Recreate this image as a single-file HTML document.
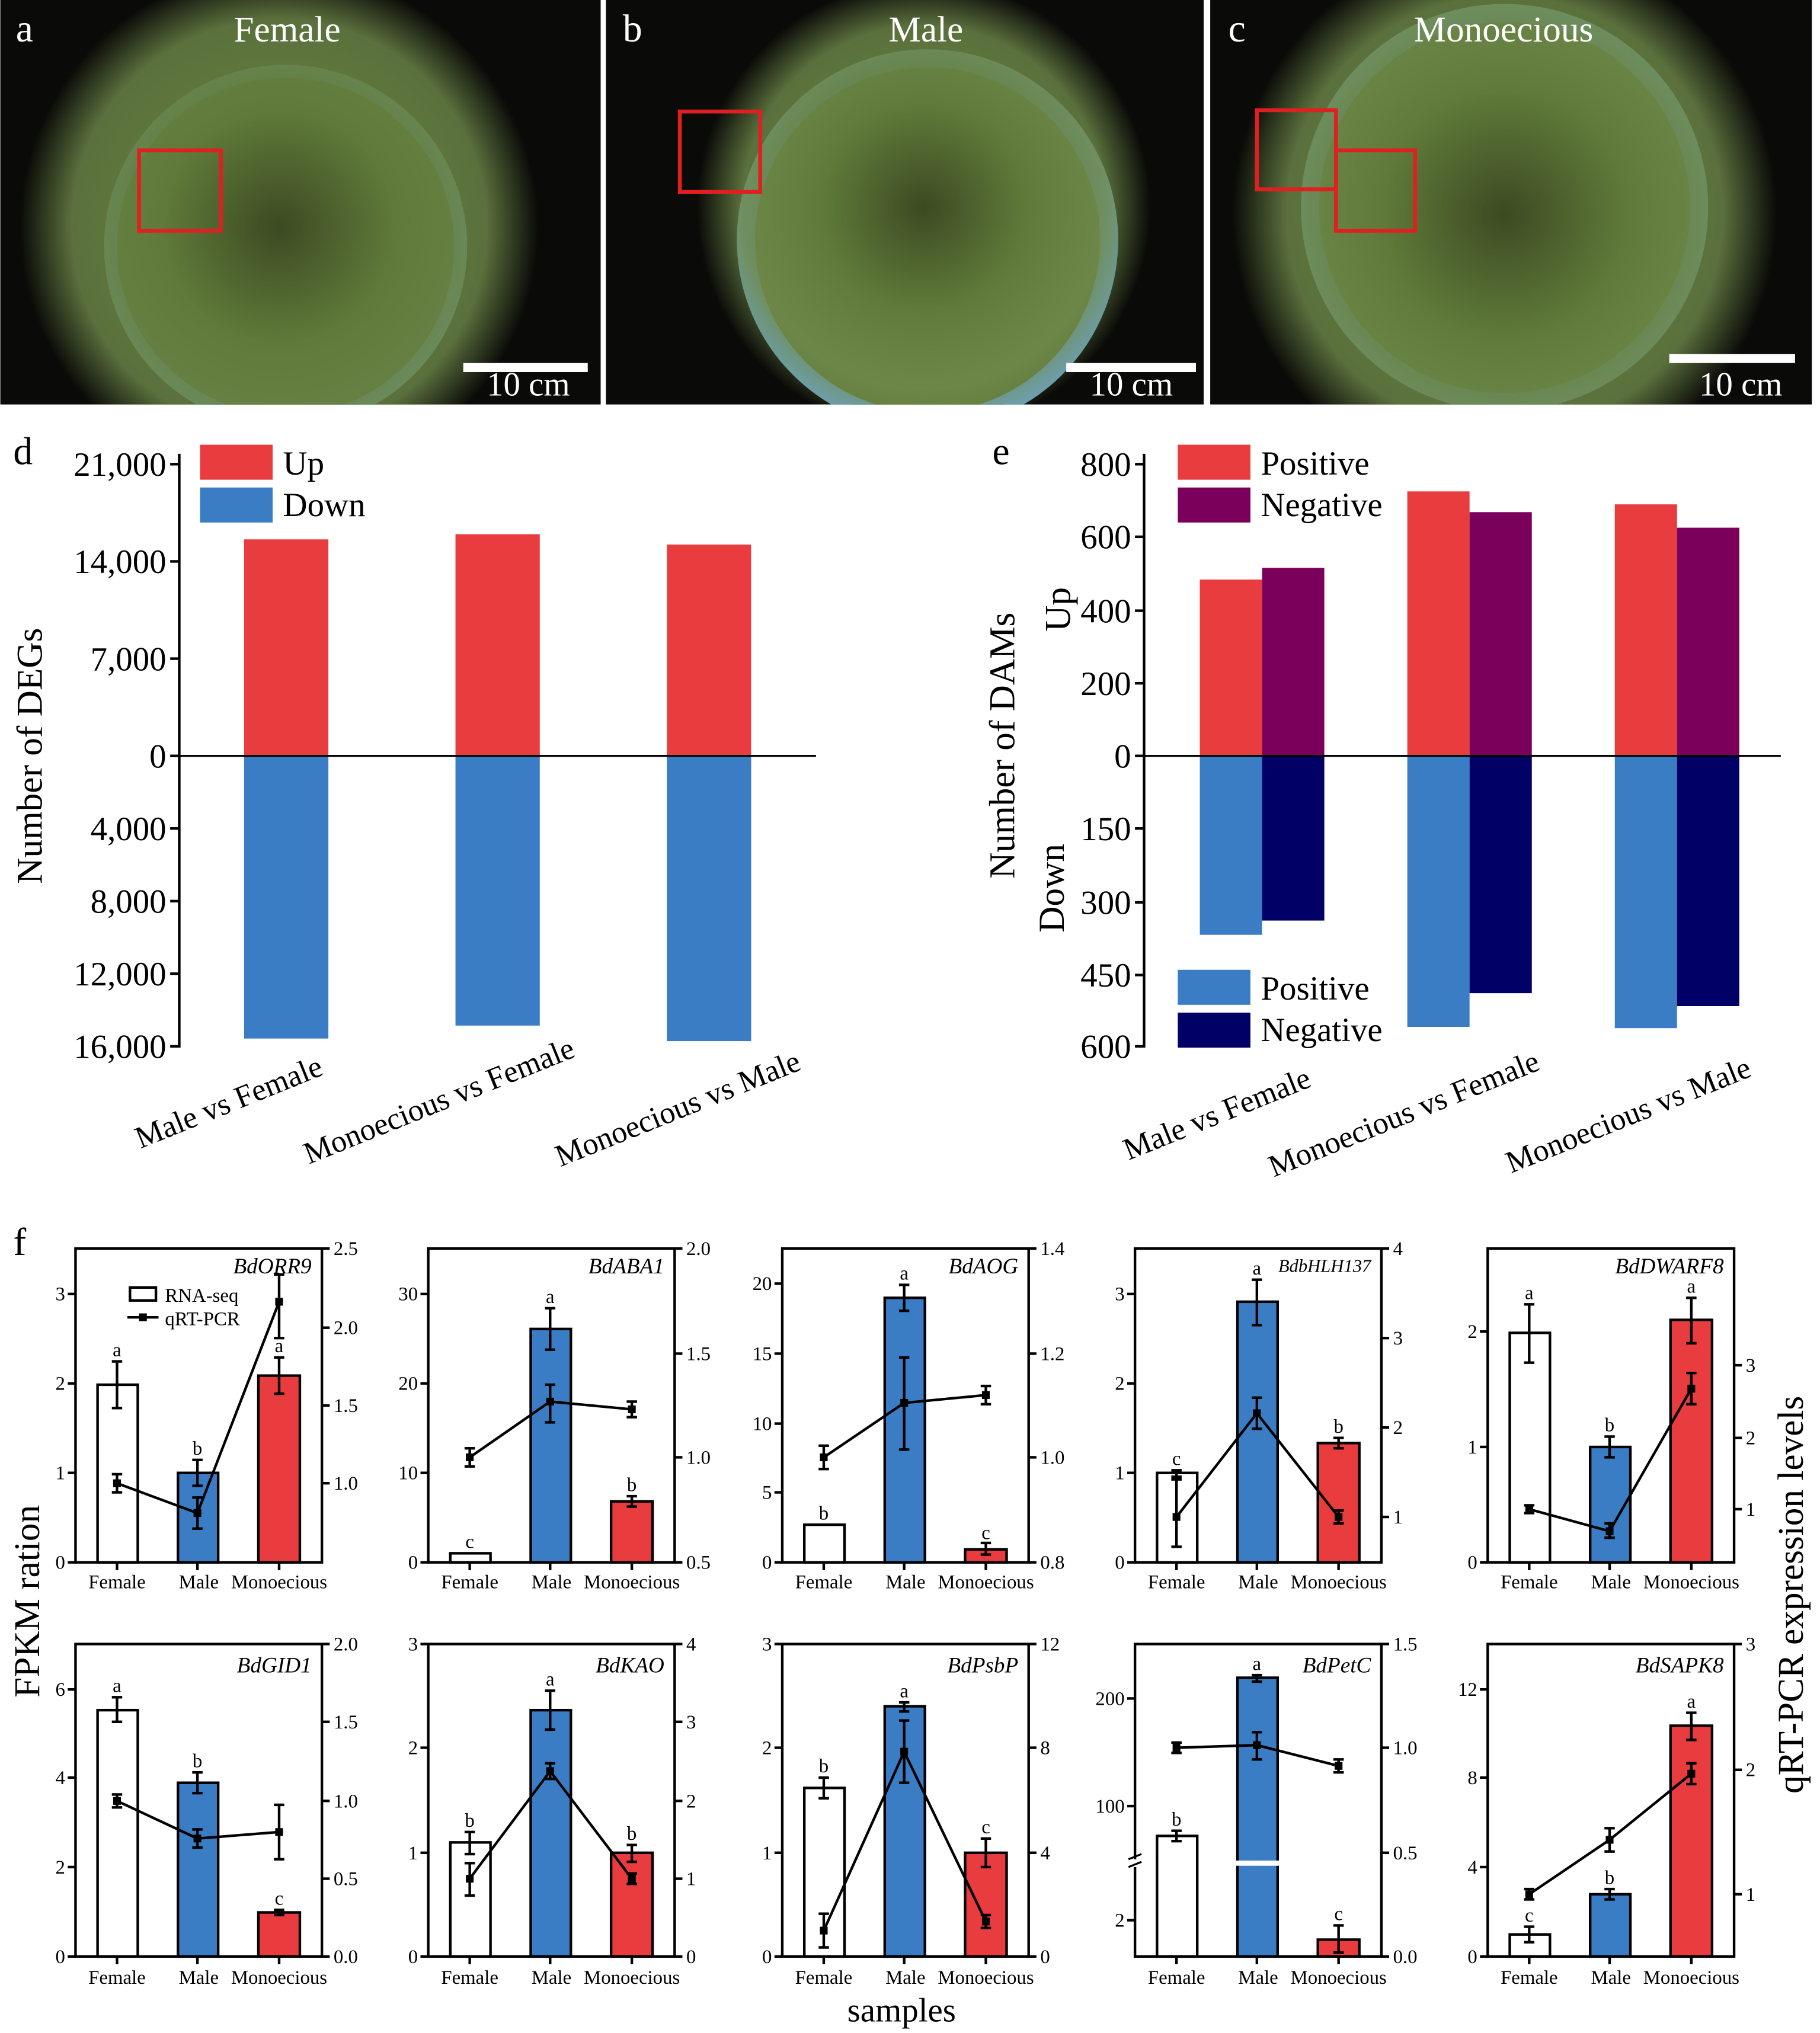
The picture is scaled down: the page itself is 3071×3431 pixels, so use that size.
<!DOCTYPE html>
<html><head><meta charset="utf-8"><style>
html,body{margin:0;padding:0;background:#fff}
svg{display:block}
text{font-family:"Liberation Serif",serif;fill:#000}
</style></head><body>
<svg width="3071" height="3431" viewBox="0 0 1403 1568" xmlns="http://www.w3.org/2000/svg">
<defs>
<radialGradient id="pl" cx="50%" cy="50%" r="50%">
<stop offset="0" stop-color="#3d4a22"/><stop offset="0.45" stop-color="#5f7a3a"/><stop offset="0.8" stop-color="#6f8a4a" stop-opacity="0.8"/><stop offset="1" stop-color="#6f8a4a" stop-opacity="0"/>
</radialGradient>
<clipPath id="ca"><rect x="0" y="0" width="463" height="312"/></clipPath>
<clipPath id="cb"><rect x="467" y="0" width="461" height="312"/></clipPath>
<clipPath id="cc"><rect x="933" y="0" width="464" height="312"/></clipPath>
</defs>
<!-- photos -->
<g clip-path="url(#ca)">
<rect x="0" y="0" width="463" height="312" fill="#0a0a08"/>
<circle cx="220" cy="190" r="135" fill="#4a5a30" stroke="#5d8fa8" stroke-width="10"/>
<circle cx="215" cy="175" r="200" fill="url(#pl)"/>
</g>
<rect x="107" y="116" width="63" height="62" fill="none" stroke="#e02020" stroke-width="3"/>
<rect x="357" y="280" width="96" height="7" fill="#fff"/>
<text x="12" y="32" font-size="30" style="fill:#fff">a</text>
<text x="180" y="32" font-size="28" style="fill:#fff">Female</text>
<text x="375" y="305" font-size="26" style="fill:#fff">10 cm</text>
<g clip-path="url(#cb)">
<rect x="467" y="0" width="461" height="312" fill="#0a0a08"/>
<circle cx="715" cy="185" r="140" fill="#5f7a3a" stroke="#6ea2bd" stroke-width="14"/>
<circle cx="712" cy="160" r="175" fill="url(#pl)"/>
</g>
<rect x="524" y="86" width="62" height="62" fill="none" stroke="#e02020" stroke-width="3"/>
<rect x="822" y="280" width="100" height="7" fill="#fff"/>
<text x="480" y="32" font-size="30" style="fill:#fff">b</text>
<text x="685" y="32" font-size="28" style="fill:#fff">Male</text>
<text x="840" y="305" font-size="26" style="fill:#fff">10 cm</text>
<g clip-path="url(#cc)">
<rect x="933" y="0" width="464" height="312" fill="#0a0a08"/>
<circle cx="1160" cy="160" r="150" fill="#5f7a3a" stroke="#6ea2bd" stroke-width="14"/>
<circle cx="1160" cy="165" r="210" fill="url(#pl)"/>
</g>
<rect x="969" y="85" width="61" height="61" fill="none" stroke="#e02020" stroke-width="3"/>
<rect x="1030" y="116" width="61" height="62" fill="none" stroke="#e02020" stroke-width="3"/>
<rect x="1287" y="273" width="97" height="7" fill="#fff"/>
<text x="947" y="32" font-size="30" style="fill:#fff">c</text>
<text x="1090" y="32" font-size="28" style="fill:#fff">Monoecious</text>
<text x="1310" y="305" font-size="26" style="fill:#fff">10 cm</text>

<!-- panel d -->
<g font-size="26">
<text x="10" y="358" font-size="30">d</text>
<text transform="translate(32,583) rotate(-90)" text-anchor="middle" font-size="28">Number of DEGs</text>
<g fill="#e83c3f"><rect x="188" y="416" width="65" height="167"/><rect x="351" y="412" width="65" height="171"/><rect x="514" y="420" width="65" height="163"/></g>
<g fill="#3a7dc5"><rect x="188" y="583" width="65" height="218"/><rect x="351" y="583" width="65" height="208"/><rect x="514" y="583" width="65" height="220"/></g>
<line x1="138" y1="583" x2="629" y2="583" stroke="#000" stroke-width="1.5"/>
<line x1="138" y1="350" x2="138" y2="808" stroke="#000" stroke-width="2"/>
<g stroke="#000" stroke-width="2"><line x1="131" y1="358" x2="138" y2="358"/><line x1="131" y1="433" x2="138" y2="433"/><line x1="131" y1="508" x2="138" y2="508"/><line x1="131" y1="583" x2="138" y2="583"/><line x1="131" y1="639" x2="138" y2="639"/><line x1="131" y1="695" x2="138" y2="695"/><line x1="131" y1="751" x2="138" y2="751"/><line x1="131" y1="807" x2="138" y2="807"/></g>
<g text-anchor="end"><text x="128" y="367">21,000</text><text x="128" y="442">14,000</text><text x="128" y="517">7,000</text><text x="128" y="592">0</text><text x="128" y="648">4,000</text><text x="128" y="704">8,000</text><text x="128" y="760">12,000</text><text x="128" y="816">16,000</text></g>
<rect x="154" y="343" width="56" height="27" fill="#e83c3f"/><rect x="154" y="376" width="56" height="27" fill="#3a7dc5"/>
<text x="218" y="366">Up</text><text x="218" y="398">Down</text>
<g font-size="24"><text transform="translate(108,886) rotate(-22)">Male vs Female</text><text transform="translate(238,898) rotate(-22)">Monoecious vs Female</text><text transform="translate(432,900) rotate(-22)">Monoecious vs Male</text></g>
</g>

<!-- panel e -->
<g font-size="26">
<text x="765" y="358" font-size="30">e</text>
<text transform="translate(782,575) rotate(-90)" text-anchor="middle" font-size="28">Number of DAMs</text>
<text transform="translate(825,470) rotate(-90)" text-anchor="middle" font-size="28">Up</text>
<text transform="translate(820,685) rotate(-90)" text-anchor="middle" font-size="28">Down</text>
<rect x="925" y="447" width="48" height="136" fill="#e83c3f"/><rect x="973" y="438" width="48" height="145" fill="#7b005c"/>
<rect x="1085" y="379" width="48" height="204" fill="#e83c3f"/><rect x="1133" y="395" width="48" height="188" fill="#7b005c"/>
<rect x="1245" y="389" width="48" height="194" fill="#e83c3f"/><rect x="1293" y="407" width="48" height="176" fill="#7b005c"/>
<rect x="925" y="583" width="48" height="138" fill="#3a7dc5"/><rect x="973" y="583" width="48" height="127" fill="#000066"/>
<rect x="1085" y="583" width="48" height="209" fill="#3a7dc5"/><rect x="1133" y="583" width="48" height="183" fill="#000066"/>
<rect x="1245" y="583" width="48" height="210" fill="#3a7dc5"/><rect x="1293" y="583" width="48" height="193" fill="#000066"/>
<line x1="882" y1="583" x2="1373" y2="583" stroke="#000" stroke-width="1.5"/>
<line x1="882" y1="350" x2="882" y2="808" stroke="#000" stroke-width="2"/>
<g stroke="#000" stroke-width="2"><line x1="875" y1="358" x2="882" y2="358"/><line x1="875" y1="414" x2="882" y2="414"/><line x1="875" y1="471" x2="882" y2="471"/><line x1="875" y1="527" x2="882" y2="527"/><line x1="875" y1="583" x2="882" y2="583"/><line x1="875" y1="639" x2="882" y2="639"/><line x1="875" y1="696" x2="882" y2="696"/><line x1="875" y1="752" x2="882" y2="752"/><line x1="875" y1="807" x2="882" y2="807"/></g>
<g text-anchor="end"><text x="872" y="367">800</text><text x="872" y="423">600</text><text x="872" y="480">400</text><text x="872" y="536">200</text><text x="872" y="592">0</text><text x="872" y="648">150</text><text x="872" y="705">300</text><text x="872" y="761">450</text><text x="872" y="816">600</text></g>
<rect x="908" y="343" width="56" height="27" fill="#e83c3f"/><rect x="908" y="376" width="56" height="27" fill="#7b005c"/>
<text x="972" y="366">Positive</text><text x="972" y="398">Negative</text>
<rect x="908" y="748" width="56" height="27" fill="#3a7dc5"/><rect x="908" y="781" width="56" height="27" fill="#000066"/>
<text x="972" y="771">Positive</text><text x="972" y="803">Negative</text>
<g font-size="24"><text transform="translate(870,895) rotate(-22)">Male vs Female</text><text transform="translate(982,908) rotate(-22)">Monoecious vs Female</text><text transform="translate(1165,905) rotate(-22)">Monoecious vs Male</text></g>
</g>

<!-- panel f -->
<text x="10" y="968" font-size="30">f</text>
<text transform="translate(30,1235) rotate(-90)" text-anchor="middle" font-size="28">FPKM ration</text>
<text transform="translate(1390,1230) rotate(-90)" text-anchor="middle" font-size="28">qRT-PCR expression levels</text>
<text x="695" y="1559" text-anchor="middle" font-size="26">samples</text>

<g font-size="15" stroke-linecap="butt">
<!-- P1 BdORR9 -->
<g>
<rect x="75" y="1068" width="31" height="137" fill="#fff" stroke="#000" stroke-width="2"/>
<rect x="137" y="1136" width="31" height="69" fill="#3a7dc5" stroke="#000" stroke-width="2"/>
<rect x="199" y="1061" width="32" height="144" fill="#e83c3f" stroke="#000" stroke-width="2"/>
<path d="M90 1050V1086M86 1050H94M86 1086H94M152 1126V1146M148 1126H156M148 1146H156M215 1047V1075M211 1047H219M211 1075H219" stroke="#000" stroke-width="2"/>
<path d="M90 1137V1151M86 1137H94M86 1151H94M152 1155V1179M148 1155H156M148 1179H156M215 983V1032M211 983H219M211 1032H219" stroke="#000" stroke-width="2"/>
<polyline points="90,1144 152,1167 215,1004" fill="none" stroke="#000" stroke-width="2"/>
<g fill="#000"><rect x="87" y="1141" width="6" height="6"/><rect x="149" y="1164" width="6" height="6"/><rect x="212" y="1001" width="6" height="6"/></g>
<text x="90" y="1046" text-anchor="middle">a</text><text x="152" y="1122" text-anchor="middle">b</text><text x="215" y="1043" text-anchor="middle">a</text>
<text x="240" y="982" text-anchor="end" font-style="italic" font-size="17">BdORR9</text>
<rect x="100" y="993" width="20" height="10" fill="none" stroke="#000" stroke-width="2"/><text x="127" y="1004">RNA-seq</text>
<path d="M98 1016H122" stroke="#000" stroke-width="2"/><rect x="107" y="1013" width="6" height="6"/><text x="127" y="1022">qRT-PCR</text>
<rect x="58" y="963" width="190" height="242" fill="none" stroke="#000" stroke-width="2"/>
<path d="M52 1205H58M52 1136H58M52 1067H58M52 998H58M248 963H254M248 1024H254M248 1084H254M248 1144H254M90 1205V1211M152 1205V1211M215 1205V1211" stroke="#000" stroke-width="2"/>
<g text-anchor="end"><text x="50" y="1210">0</text><text x="50" y="1141">1</text><text x="50" y="1072">2</text><text x="50" y="1003">3</text></g>
<text x="257" y="968">2.5</text><text x="257" y="1029">2.0</text><text x="257" y="1089">1.5</text><text x="257" y="1149">1.0</text>
<text x="90" y="1225" text-anchor="middle">Female</text><text x="153" y="1225" text-anchor="middle">Male</text><text x="215" y="1225" text-anchor="middle">Monoecious</text>
</g>

<!-- P2 BdABA1 -->
<g transform="translate(272,0)">
<rect x="75" y="1198" width="31" height="7" fill="#fff" stroke="#000" stroke-width="2"/>
<rect x="137" y="1025" width="31" height="180" fill="#3a7dc5" stroke="#000" stroke-width="2"/>
<rect x="199" y="1158" width="32" height="47" fill="#e83c3f" stroke="#000" stroke-width="2"/>
<path d="M152 1009V1041M148 1009H156M148 1041H156M215 1154V1162M211 1154H219M211 1162H219" stroke="#000" stroke-width="2"/>
<path d="M90 1117V1131M86 1117H94M86 1131H94M152 1068V1097M148 1068H156M148 1097H156M215 1081V1093M211 1081H219M211 1093H219" stroke="#000" stroke-width="2"/>
<polyline points="90,1124 152,1081 215,1087" fill="none" stroke="#000" stroke-width="2"/>
<g fill="#000"><rect x="87" y="1121" width="6" height="6"/><rect x="149" y="1078" width="6" height="6"/><rect x="212" y="1084" width="6" height="6"/></g>
<text x="90" y="1194" text-anchor="middle">c</text><text x="152" y="1005" text-anchor="middle">a</text><text x="215" y="1150" text-anchor="middle">b</text>
<text x="240" y="982" text-anchor="end" font-style="italic" font-size="17">BdABA1</text>
<rect x="58" y="963" width="190" height="242" fill="none" stroke="#000" stroke-width="2"/>
<path d="M52 1205H58M52 1136H58M52 1067H58M52 998H58M248 963H254M248 1044H254M248 1124H254M248 1205H254M90 1205V1211M152 1205V1211M215 1205V1211" stroke="#000" stroke-width="2"/>
<g text-anchor="end"><text x="50" y="1210">0</text><text x="50" y="1141">10</text><text x="50" y="1072">20</text><text x="50" y="1003">30</text></g>
<text x="257" y="968">2.0</text><text x="257" y="1049">1.5</text><text x="257" y="1129">1.0</text><text x="257" y="1210">0.5</text>
<text x="90" y="1225" text-anchor="middle">Female</text><text x="153" y="1225" text-anchor="middle">Male</text><text x="215" y="1225" text-anchor="middle">Monoecious</text>
</g>

<!-- P3 BdAOG -->
<g transform="translate(545,0)">
<rect x="75" y="1176" width="31" height="29" fill="#fff" stroke="#000" stroke-width="2"/>
<rect x="137" y="1001" width="31" height="204" fill="#3a7dc5" stroke="#000" stroke-width="2"/>
<rect x="199" y="1195" width="32" height="10" fill="#e83c3f" stroke="#000" stroke-width="2"/>
<path d="M152 991V1011M148 991H156M148 1011H156M215 1190V1199M211 1190H219M211 1199H219" stroke="#000" stroke-width="2"/>
<path d="M90 1115V1133M86 1115H94M86 1133H94M152 1047V1118M148 1047H156M148 1118H156M215 1069V1083M211 1069H219M211 1083H219" stroke="#000" stroke-width="2"/>
<polyline points="90,1124 152,1082 215,1076" fill="none" stroke="#000" stroke-width="2"/>
<g fill="#000"><rect x="87" y="1121" width="6" height="6"/><rect x="149" y="1079" width="6" height="6"/><rect x="212" y="1073" width="6" height="6"/></g>
<text x="90" y="1172" text-anchor="middle">b</text><text x="152" y="987" text-anchor="middle">a</text><text x="215" y="1187" text-anchor="middle">c</text>
<text x="240" y="982" text-anchor="end" font-style="italic" font-size="17">BdAOG</text>
<rect x="58" y="963" width="190" height="242" fill="none" stroke="#000" stroke-width="2"/>
<path d="M52 1205H58M52 1151H58M52 1098H58M52 1044H58M52 990H58M248 963H254M248 1044H254M248 1124H254M248 1205H254M90 1205V1211M152 1205V1211M215 1205V1211" stroke="#000" stroke-width="2"/>
<g text-anchor="end"><text x="50" y="1210">0</text><text x="50" y="1156">5</text><text x="50" y="1103">10</text><text x="50" y="1049">15</text><text x="50" y="995">20</text></g>
<text x="257" y="968">1.4</text><text x="257" y="1049">1.2</text><text x="257" y="1129">1.0</text><text x="257" y="1210">0.8</text>
<text x="90" y="1225" text-anchor="middle">Female</text><text x="153" y="1225" text-anchor="middle">Male</text><text x="215" y="1225" text-anchor="middle">Monoecious</text>
</g>

<!-- P4 BdbHLH137 -->
<g transform="translate(817,0)">
<rect x="75" y="1136" width="31" height="69" fill="#fff" stroke="#000" stroke-width="2"/>
<rect x="137" y="1004" width="31" height="201" fill="#3a7dc5" stroke="#000" stroke-width="2"/>
<rect x="199" y="1113" width="32" height="92" fill="#e83c3f" stroke="#000" stroke-width="2"/>
<path d="M90 1134V1139M86 1134H94M86 1139H94M152 987V1022M148 987H156M148 1022H156M215 1109V1117M211 1109H219M211 1117H219" stroke="#000" stroke-width="2"/>
<path d="M90 1141V1193M86 1141H94M86 1193H94M152 1078V1102M148 1078H156M148 1102H156M215 1165V1175M211 1165H219M211 1175H219" stroke="#000" stroke-width="2"/>
<polyline points="90,1170 152,1090 215,1170" fill="none" stroke="#000" stroke-width="2"/>
<g fill="#000"><rect x="87" y="1167" width="6" height="6"/><rect x="149" y="1087" width="6" height="6"/><rect x="212" y="1167" width="6" height="6"/></g>
<text x="90" y="1130" text-anchor="middle">c</text><text x="152" y="983" text-anchor="middle">a</text><text x="215" y="1105" text-anchor="middle">b</text>
<text x="240" y="981" text-anchor="end" font-style="italic" font-size="14">BdbHLH137</text>
<rect x="58" y="963" width="190" height="242" fill="none" stroke="#000" stroke-width="2"/>
<path d="M52 1205H58M52 1136H58M52 1067H58M52 998H58M248 963H254M248 1032H254M248 1101H254M248 1170H254M90 1205V1211M152 1205V1211M215 1205V1211" stroke="#000" stroke-width="2"/>
<g text-anchor="end"><text x="50" y="1210">0</text><text x="50" y="1141">1</text><text x="50" y="1072">2</text><text x="50" y="1003">3</text></g>
<text x="257" y="968">4</text><text x="257" y="1037">3</text><text x="257" y="1106">2</text><text x="257" y="1175">1</text>
<text x="90" y="1225" text-anchor="middle">Female</text><text x="153" y="1225" text-anchor="middle">Male</text><text x="215" y="1225" text-anchor="middle">Monoecious</text>
</g>

<!-- P5 BdDWARF8 -->
<g transform="translate(1089,0)">
<rect x="75" y="1028" width="31" height="177" fill="#fff" stroke="#000" stroke-width="2"/>
<rect x="137" y="1116" width="31" height="89" fill="#3a7dc5" stroke="#000" stroke-width="2"/>
<rect x="199" y="1018" width="32" height="187" fill="#e83c3f" stroke="#000" stroke-width="2"/>
<path d="M90 1006V1051M86 1006H94M86 1051H94M152 1108V1124M148 1108H156M148 1124H156M215 1001V1036M211 1001H219M211 1036H219" stroke="#000" stroke-width="2"/>
<path d="M90 1161V1167M86 1161H94M86 1167H94M152 1175V1186M148 1175H156M148 1186H156M215 1059V1083M211 1059H219M211 1083H219" stroke="#000" stroke-width="2"/>
<polyline points="90,1164 152,1181 215,1071" fill="none" stroke="#000" stroke-width="2"/>
<g fill="#000"><rect x="87" y="1161" width="6" height="6"/><rect x="149" y="1178" width="6" height="6"/><rect x="212" y="1068" width="6" height="6"/></g>
<text x="90" y="1002" text-anchor="middle">a</text><text x="152" y="1104" text-anchor="middle">b</text><text x="215" y="997" text-anchor="middle">a</text>
<text x="240" y="982" text-anchor="end" font-style="italic" font-size="17">BdDWARF8</text>
<rect x="58" y="963" width="190" height="242" fill="none" stroke="#000" stroke-width="2"/>
<path d="M52 1205H58M52 1116H58M52 1027H58M248 1053H254M248 1109H254M248 1164H254M90 1205V1211M152 1205V1211M215 1205V1211" stroke="#000" stroke-width="2"/>
<g text-anchor="end"><text x="50" y="1210">0</text><text x="50" y="1121">1</text><text x="50" y="1032">2</text></g>
<text x="257" y="1058">3</text><text x="257" y="1114">2</text><text x="257" y="1169">1</text>
<text x="90" y="1225" text-anchor="middle">Female</text><text x="153" y="1225" text-anchor="middle">Male</text><text x="215" y="1225" text-anchor="middle">Monoecious</text>
</g>

<!-- P6 BdGID1 -->
<g>
<rect x="75" y="1319" width="31" height="190" fill="#fff" stroke="#000" stroke-width="2"/>
<rect x="137" y="1375" width="31" height="134" fill="#3a7dc5" stroke="#000" stroke-width="2"/>
<rect x="199" y="1475" width="32" height="34" fill="#e83c3f" stroke="#000" stroke-width="2"/>
<path d="M90 1309V1328M86 1309H94M86 1328H94M152 1367V1383M148 1367H156M148 1383H156M215 1473V1477M211 1473H219M211 1477H219" stroke="#000" stroke-width="2"/>
<path d="M90 1384V1394M86 1384H94M86 1394H94M152 1411V1425M148 1411H156M148 1425H156M215 1392V1434M211 1392H219M211 1434H219" stroke="#000" stroke-width="2"/>
<polyline points="90,1389 152,1418 215,1413" fill="none" stroke="#000" stroke-width="2"/>
<g fill="#000"><rect x="87" y="1386" width="6" height="6"/><rect x="149" y="1415" width="6" height="6"/><rect x="212" y="1410" width="6" height="6"/></g>
<text x="90" y="1305" text-anchor="middle">a</text><text x="152" y="1363" text-anchor="middle">b</text><text x="215" y="1469" text-anchor="middle">c</text>
<text x="240" y="1290" text-anchor="end" font-style="italic" font-size="17">BdGID1</text>
<rect x="58" y="1268" width="190" height="241" fill="none" stroke="#000" stroke-width="2"/>
<path d="M52 1509H58M52 1440H58M52 1371H58M52 1303H58M248 1268H254M248 1328H254M248 1389H254M248 1449H254M248 1509H254M90 1509V1515M152 1509V1515M215 1509V1515" stroke="#000" stroke-width="2"/>
<g text-anchor="end"><text x="50" y="1514">0</text><text x="50" y="1445">2</text><text x="50" y="1376">4</text><text x="50" y="1308">6</text></g>
<text x="257" y="1273">2.0</text><text x="257" y="1333">1.5</text><text x="257" y="1394">1.0</text><text x="257" y="1454">0.5</text><text x="257" y="1514">0.0</text>
<text x="90" y="1530" text-anchor="middle">Female</text><text x="153" y="1530" text-anchor="middle">Male</text><text x="215" y="1530" text-anchor="middle">Monoecious</text>
</g>

<!-- P7 BdKAO -->
<g transform="translate(272,0)">
<rect x="75" y="1421" width="31" height="88" fill="#fff" stroke="#000" stroke-width="2"/>
<rect x="137" y="1319" width="31" height="190" fill="#3a7dc5" stroke="#000" stroke-width="2"/>
<rect x="199" y="1429" width="32" height="80" fill="#e83c3f" stroke="#000" stroke-width="2"/>
<path d="M90 1413V1430M86 1413H94M86 1430H94M152 1304V1334M148 1304H156M148 1334H156M215 1423V1436M211 1423H219M211 1436H219" stroke="#000" stroke-width="2"/>
<path d="M90 1437V1462M86 1437H94M86 1462H94M152 1360V1372M148 1360H156M148 1372H156M215 1445V1453M211 1445H219M211 1453H219" stroke="#000" stroke-width="2"/>
<polyline points="90,1449 152,1366 215,1449" fill="none" stroke="#000" stroke-width="2"/>
<g fill="#000"><rect x="87" y="1446" width="6" height="6"/><rect x="149" y="1363" width="6" height="6"/><rect x="212" y="1446" width="6" height="6"/></g>
<text x="90" y="1409" text-anchor="middle">b</text><text x="152" y="1300" text-anchor="middle">a</text><text x="215" y="1419" text-anchor="middle">b</text>
<text x="240" y="1290" text-anchor="end" font-style="italic" font-size="17">BdKAO</text>
<rect x="58" y="1268" width="190" height="241" fill="none" stroke="#000" stroke-width="2"/>
<path d="M52 1509H58M52 1429H58M52 1348H58M52 1268H58M248 1268H254M248 1328H254M248 1389H254M248 1449H254M248 1509H254M90 1509V1515M152 1509V1515M215 1509V1515" stroke="#000" stroke-width="2"/>
<g text-anchor="end"><text x="50" y="1514">0</text><text x="50" y="1434">1</text><text x="50" y="1353">2</text><text x="50" y="1273">3</text></g>
<text x="257" y="1273">4</text><text x="257" y="1333">3</text><text x="257" y="1394">2</text><text x="257" y="1454">1</text><text x="257" y="1514">0</text>
<text x="90" y="1530" text-anchor="middle">Female</text><text x="153" y="1530" text-anchor="middle">Male</text><text x="215" y="1530" text-anchor="middle">Monoecious</text>
</g>

<!-- P8 BdPsbP -->
<g transform="translate(545,0)">
<rect x="75" y="1379" width="31" height="130" fill="#fff" stroke="#000" stroke-width="2"/>
<rect x="137" y="1316" width="31" height="193" fill="#3a7dc5" stroke="#000" stroke-width="2"/>
<rect x="199" y="1429" width="32" height="80" fill="#e83c3f" stroke="#000" stroke-width="2"/>
<path d="M90 1371V1387M86 1371H94M86 1387H94M152 1313V1320M148 1313H156M148 1320H156M215 1418V1440M211 1418H219M211 1440H219" stroke="#000" stroke-width="2"/>
<path d="M90 1476V1502M86 1476H94M86 1502H94M152 1327V1375M148 1327H156M148 1375H156M215 1477V1487M211 1477H219M211 1487H219" stroke="#000" stroke-width="2"/>
<polyline points="90,1489 152,1351 215,1482" fill="none" stroke="#000" stroke-width="2"/>
<g fill="#000"><rect x="87" y="1486" width="6" height="6"/><rect x="149" y="1348" width="6" height="6"/><rect x="212" y="1479" width="6" height="6"/></g>
<text x="90" y="1367" text-anchor="middle">b</text><text x="152" y="1309" text-anchor="middle">a</text><text x="215" y="1414" text-anchor="middle">c</text>
<text x="240" y="1290" text-anchor="end" font-style="italic" font-size="17">BdPsbP</text>
<rect x="58" y="1268" width="190" height="241" fill="none" stroke="#000" stroke-width="2"/>
<path d="M52 1509H58M52 1429H58M52 1348H58M52 1268H58M248 1268H254M248 1348H254M248 1429H254M248 1509H254M90 1509V1515M152 1509V1515M215 1509V1515" stroke="#000" stroke-width="2"/>
<g text-anchor="end"><text x="50" y="1514">0</text><text x="50" y="1434">1</text><text x="50" y="1353">2</text><text x="50" y="1273">3</text></g>
<text x="257" y="1273">12</text><text x="257" y="1353">8</text><text x="257" y="1434">4</text><text x="257" y="1514">0</text>
<text x="90" y="1530" text-anchor="middle">Female</text><text x="153" y="1530" text-anchor="middle">Male</text><text x="215" y="1530" text-anchor="middle">Monoecious</text>
</g>

<!-- P9 BdPetC -->
<g transform="translate(817,0)">
<rect x="75" y="1416" width="31" height="93" fill="#fff" stroke="#000" stroke-width="2"/>
<rect x="137" y="1294" width="31" height="215" fill="#3a7dc5" stroke="#000" stroke-width="2"/>
<rect x="136" y="1435" width="33" height="4" fill="#fff"/>
<rect x="76" y="1435" width="29" height="4" fill="#fff"/>
<rect x="199" y="1496" width="32" height="13" fill="#e83c3f" stroke="#000" stroke-width="2"/>
<path d="M90 1412V1420M86 1412H94M86 1420H94M152 1292V1297M148 1292H156M148 1297H156M215 1485V1506M211 1485H219M211 1506H219" stroke="#000" stroke-width="2"/>
<path d="M90 1344V1352M86 1344H94M86 1352H94M152 1336V1357M148 1336H156M148 1357H156M215 1357V1367M211 1357H219M211 1367H219" stroke="#000" stroke-width="2"/>
<polyline points="90,1348 152,1346 215,1362" fill="none" stroke="#000" stroke-width="2"/>
<g fill="#000"><rect x="87" y="1345" width="6" height="6"/><rect x="149" y="1343" width="6" height="6"/><rect x="212" y="1359" width="6" height="6"/></g>
<text x="90" y="1408" text-anchor="middle">b</text><text x="152" y="1288" text-anchor="middle">a</text><text x="215" y="1481" text-anchor="middle">c</text>
<text x="240" y="1290" text-anchor="end" font-style="italic" font-size="17">BdPetC</text>
<rect x="58" y="1268" width="190" height="241" fill="none" stroke="#000" stroke-width="2"/>
<rect x="54" y="1434" width="8" height="6" fill="#fff"/>
<path d="M53 1434L63 1430M53 1440L63 1436" stroke="#000" stroke-width="1.5"/>
<path d="M52 1481H58M52 1393H58M52 1310H58M248 1268H254M248 1348H254M248 1429H254M248 1509H254M90 1509V1515M152 1509V1515M215 1509V1515" stroke="#000" stroke-width="2"/>
<g text-anchor="end"><text x="50" y="1486">2</text><text x="50" y="1398">100</text><text x="50" y="1315">200</text></g>
<text x="257" y="1273">1.5</text><text x="257" y="1353">1.0</text><text x="257" y="1434">0.5</text><text x="257" y="1514">0.0</text>
<text x="90" y="1530" text-anchor="middle">Female</text><text x="153" y="1530" text-anchor="middle">Male</text><text x="215" y="1530" text-anchor="middle">Monoecious</text>
</g>

<!-- P10 BdSAPK8 -->
<g transform="translate(1089,0)">
<rect x="75" y="1492" width="31" height="17" fill="#fff" stroke="#000" stroke-width="2"/>
<rect x="137" y="1461" width="31" height="48" fill="#3a7dc5" stroke="#000" stroke-width="2"/>
<rect x="199" y="1331" width="32" height="178" fill="#e83c3f" stroke="#000" stroke-width="2"/>
<path d="M90 1486V1498M86 1486H94M86 1498H94M152 1457V1465M148 1457H156M148 1465H156M215 1321V1342M211 1321H219M211 1342H219" stroke="#000" stroke-width="2"/>
<path d="M90 1457V1465M86 1457H94M86 1465H94M152 1410V1428M148 1410H156M148 1428H156M215 1360V1376M211 1360H219M211 1376H219" stroke="#000" stroke-width="2"/>
<polyline points="90,1461 152,1419 215,1368" fill="none" stroke="#000" stroke-width="2"/>
<g fill="#000"><rect x="87" y="1458" width="6" height="6"/><rect x="149" y="1416" width="6" height="6"/><rect x="212" y="1365" width="6" height="6"/></g>
<text x="90" y="1482" text-anchor="middle">c</text><text x="152" y="1453" text-anchor="middle">b</text><text x="215" y="1317" text-anchor="middle">a</text>
<text x="240" y="1290" text-anchor="end" font-style="italic" font-size="17">BdSAPK8</text>
<rect x="58" y="1268" width="190" height="241" fill="none" stroke="#000" stroke-width="2"/>
<path d="M52 1509H58M52 1440H58M52 1371H58M52 1303H58M248 1268H254M248 1365H254M248 1461H254M90 1509V1515M152 1509V1515M215 1509V1515" stroke="#000" stroke-width="2"/>
<g text-anchor="end"><text x="50" y="1514">0</text><text x="50" y="1445">4</text><text x="50" y="1376">8</text><text x="50" y="1308">12</text></g>
<text x="257" y="1273">3</text><text x="257" y="1370">2</text><text x="257" y="1466">1</text>
<text x="90" y="1530" text-anchor="middle">Female</text><text x="153" y="1530" text-anchor="middle">Male</text><text x="215" y="1530" text-anchor="middle">Monoecious</text>
</g>
</g>
</svg>
</body></html>
